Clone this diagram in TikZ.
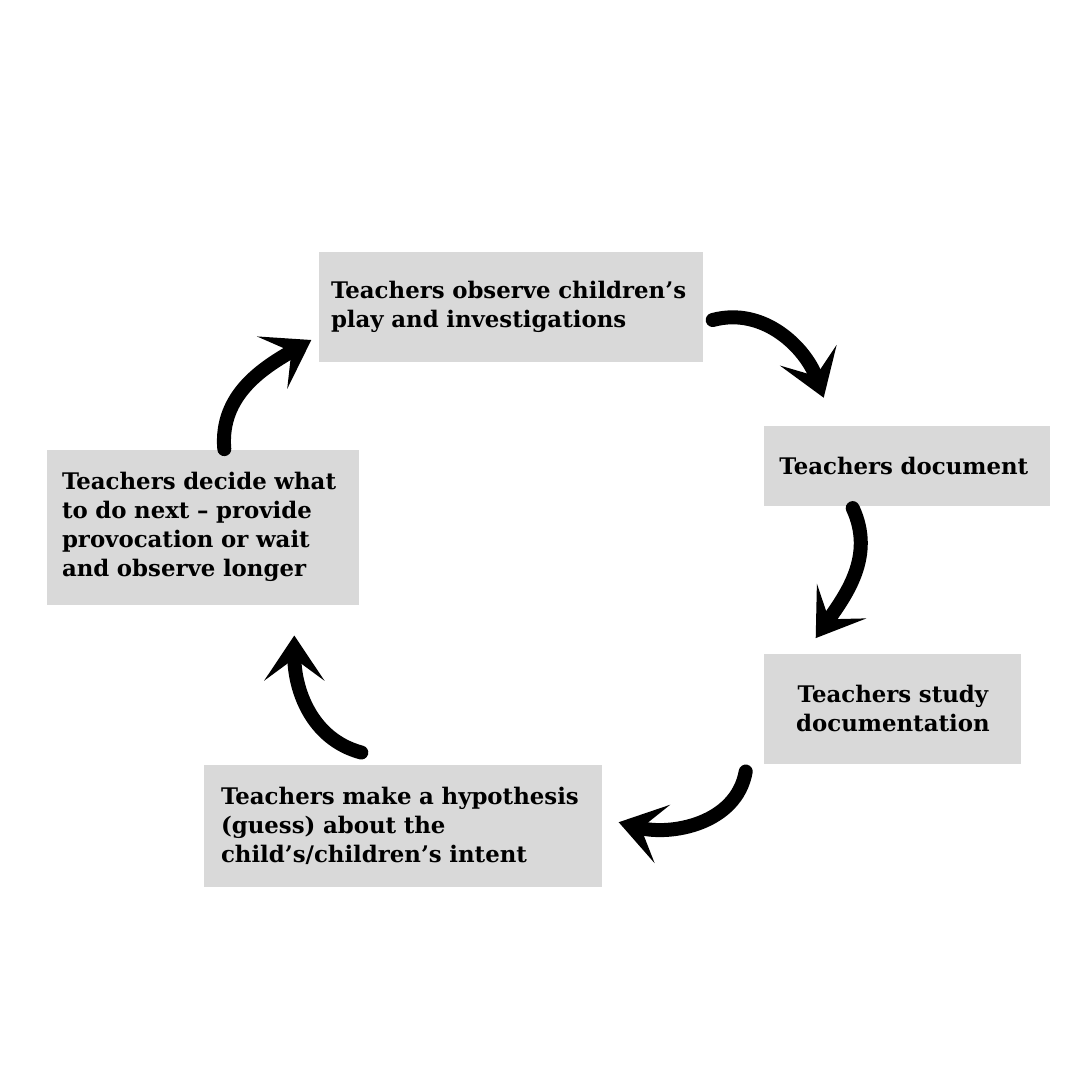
\documentclass[tikz,border=0pt]{standalone}
\usepackage{fontspec}
\setmainfont{DejaVu Serif}
\usepackage{tikz}
\usetikzlibrary{arrows.meta,positioning,calc}
\definecolor{boxgray}{RGB}{217,217,217}

\begin{document}
\begin{tikzpicture}[
    box/.style={rectangle, fill=boxgray, inner xsep=0.15cm, inner ysep=0pt, align=left,
      font=\fontsize{6.5}{8.25}\selectfont\bfseries},
    flow/.style={line width=0.14cm, line cap=round,
      -{Stealth[length=0.45cm, width=0.6cm, inset=0.22cm]}}
]
\useasboundingbox (0,0) rectangle (10.8,-10.8);

\node[box, text width=3.6cm, inner xsep=0.12cm, minimum height=1.1cm] (observe) at (5.11,-3.07)
  {Teachers observe children’s\\play and investigations};
\node[box, text width=2.56cm, minimum height=0.8cm, below right=0.63cm and 0.6cm of observe.south east, anchor=north west] (document)
  {Teachers document};
\node[box, text width=2.27cm, align=center, minimum height=1.1cm, below=1.46cm of document.south west, anchor=north west] (study)
  {Teachers study\\documentation};
\node[box, text width=3.64cm, inner xsep=0.17cm, minimum height=1.22cm, left=1.61cm of study.south west, anchor=north east] (hypothesis)
  {Teachers make a hypothesis\\(guess) about the\\child’s/children’s intent};
\node[box, text width=2.82cm, inner xsep=0.15cm, minimum height=1.55cm, above left=1.59cm and 1.57cm of hypothesis.north west, anchor=south west] (decide)
  {Teachers decide what\\to do next – provide\\provocation or wait\\and observe longer};

\draw[flow] ([shift={(0.09,-0.13)}]observe.east) to[out=15, in=110] ([shift={(0.6,0.28)}]document.north west);
\draw[flow] ([shift={(0.89,-0.01)}]document.south west) to[out=-65, in=55] ([shift={(0.52,0.15)}]study.north west);
\draw[flow] ([shift={(-0.18,-0.07)}]study.south west) to[out=-100, in=-15] ([shift={(0.16,0.04)}]hypothesis.east);
\draw[flow] ([shift={(1.58,0.12)}]hypothesis.north west) to[out=165, in=-90] ([shift={(2.48,-0.3)}]decide.south west);
\draw[flow] ([shift={(1.78,0)}]decide.north west) to[out=95, in=-150] ([shift={(-0.07,-0.33)}]observe.west);
\end{tikzpicture}
\end{document}
